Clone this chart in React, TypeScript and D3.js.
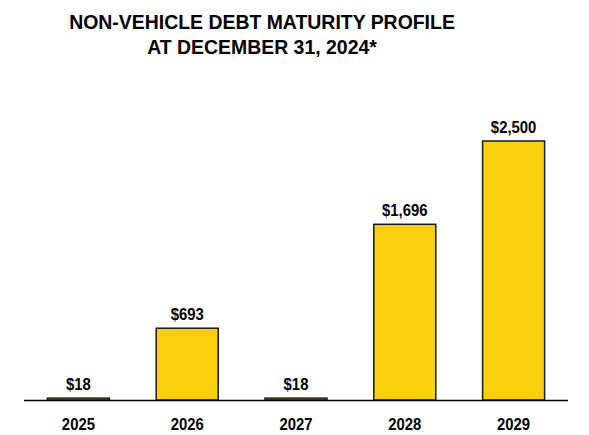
import React from "react";
import * as d3 from "d3";

const years = ["2025", "2026", "2027", "2028", "2029"];
const values = [18, 693, 18, 1696, 2500];
const valueLabels = ["$18", "$693", "$18", "$1,696", "$2,500"];
const titleLines = ["NON-VEHICLE DEBT MATURITY PROFILE", "AT DECEMBER 31, 2024*"];

function Label({ x, y, size, sx, children }: { x: number; y: number; size: number; sx: number; children: React.ReactNode }) {
  return (
    <text transform={`translate(${x},${y}) scale(${sx},1)`} textAnchor="middle" fontSize={size} fontWeight="bold" fill="#000">
      {children}
    </text>
  );
}

export default function App() {
  const W = 589;
  const H = 435;
  const x = d3.scaleBand<string>().domain(years).range([24, 568]).paddingInner(0.43).paddingOuter(0.215);
  const y = d3.scaleLinear().domain([0, 2500]).range([400, 141]);
  const font = "'Liberation Sans', Arial, Helvetica, sans-serif";
  return (
    <svg width={W} height={H} style={{ position: "absolute", left: 0, top: 0 }} fontFamily={font}>
      <rect width={W} height={H} fill="#ffffff" />
      {titleLines.map((t, i) => (
        <Label key={i} x={262} y={29 + i * 25} size={21} sx={0.926}>
          {t}
        </Label>
      ))}
      {years.map((yr, i) => {
        const bx = x(yr)!;
        const top = y(values[i]);
        const cx = bx + x.bandwidth() / 2;
        return (
          <g key={yr}>
            <rect x={bx} y={top} width={x.bandwidth()} height={400 - top} fill="#F9CF0E" stroke="#1a1a1a" strokeWidth={1.5} />
            <Label x={cx} y={top - 8.5} size={16} sx={0.93}>
              {valueLabels[i]}
            </Label>
            <Label x={cx} y={429.5} size={16} sx={0.93}>
              {yr}
            </Label>
          </g>
        );
      })}
      <line x1={24} x2={568} y1={400.5} y2={400.5} stroke="#000" strokeWidth={1.5} />
    </svg>
  );
}
